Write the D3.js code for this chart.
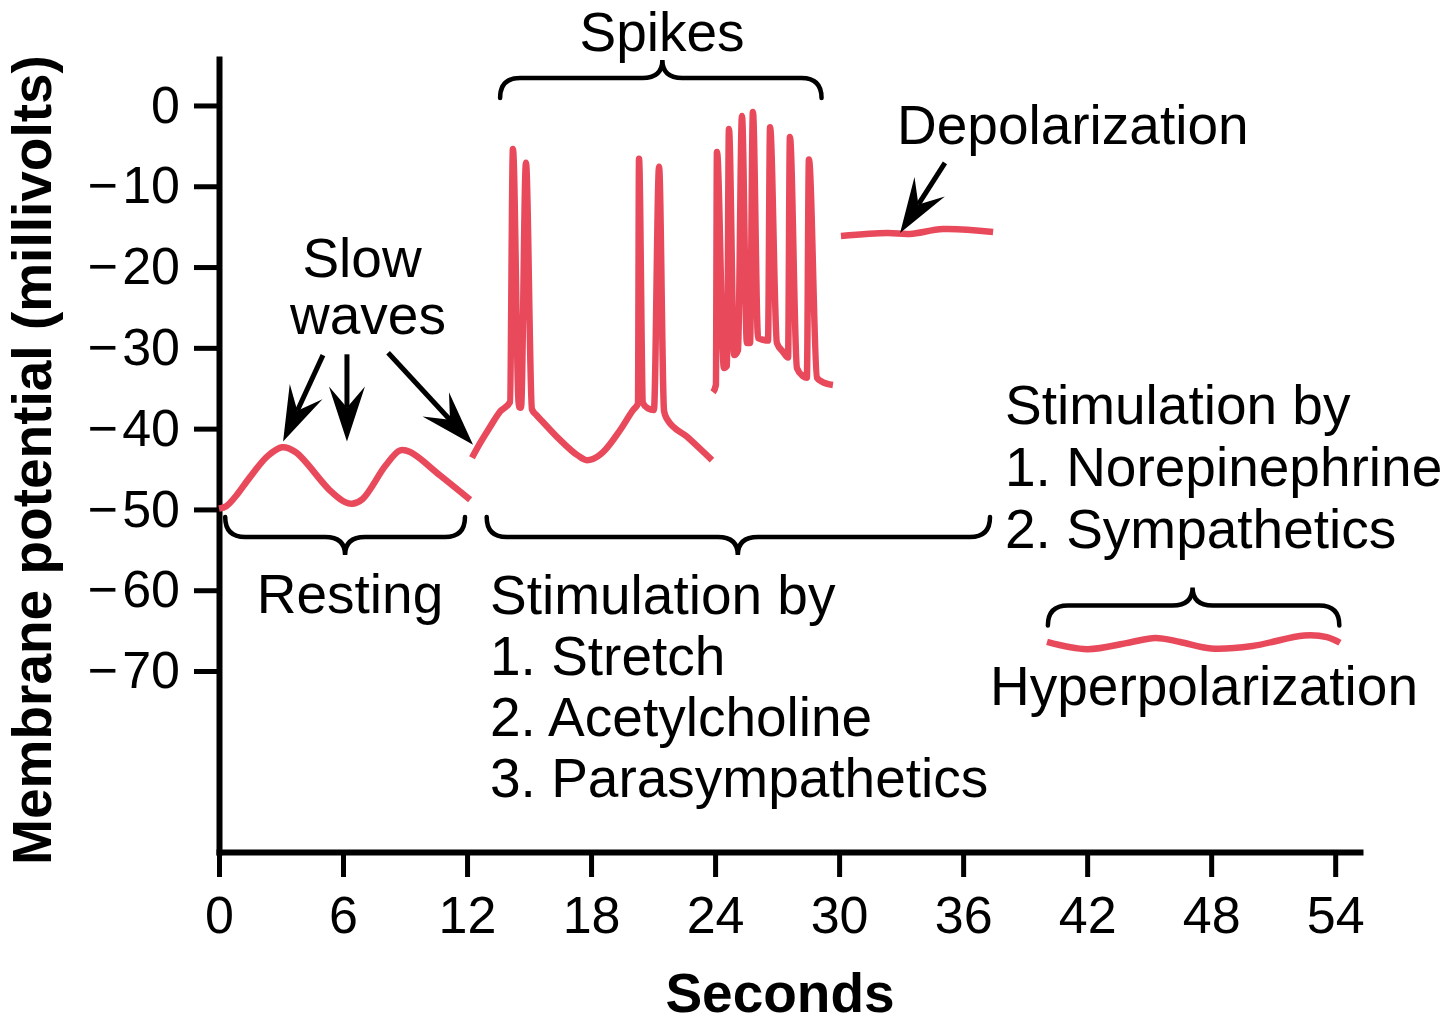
<!DOCTYPE html>
<html><head><meta charset="utf-8">
<script src="https://cdn.jsdelivr.net/npm/d3@7"></script>
<style>
html,body{margin:0;padding:0;background:#fff;}
svg{display:block;}
text{font-family:"Liberation Sans",Arial,Helvetica,sans-serif;fill:#000;}
</style>
</head><body>
<svg id="c" width="1446" height="1026"></svg>
<script>
// ---- data ----
const xTicks = [0, 6, 12, 18, 24, 30, 36, 42, 48, 54];
const yTicks = [0, -10, -20, -30, -40, -50, -60, -70];

// resting slow waves
const restingT = [0, 0.35, 0.8, 1.5, 2.35, 3.05, 3.7, 5.35, 6.1, 6.45, 6.95, 8.05, 8.75, 9.25, 10.7, 12.15];
const restingV = [-49.9, -49.6, -48.4, -46.0, -43.4, -42.3, -42.9, -47.6, -49.1, -49.3, -48.7, -44.6, -42.7, -42.9, -45.8, -48.8];

// stimulated slow waves with spikes
const stimT = [12.24, 12.63, 13.11, 13.59, 14.08, 14.22, 14.51, 14.61, 14.85, 15.14, 15.35, 15.68, 16.5, 17.32, 17.8, 18.09, 18.58, 19.4, 20.03, 20.27, 20.32, 20.51, 20.75, 21.04, 21.29, 21.53, 21.67, 22.64, 23.85];
const stimV = [-43.6, -41.8, -39.8, -37.9, -36.7, -5.4, -37.3, -37.4, -7.1, -37.6, -38.3, -39.2, -41.4, -43.25, -43.9, -43.75, -42.9, -40.2, -37.7, -36.9, -6.6, -36.85, -37.5, -37.7, -7.6, -37.8, -38.8, -41.0, -43.9];

// burst of spikes
const burstT = [23.90, 24.04, 24.09, 24.43, 24.58, 24.67, 24.92, 25.11, 25.30, 25.54, 25.69, 25.83, 26.08, 26.32, 26.56, 26.66, 26.99, 27.29, 27.53, 27.62, 27.96, 28.25, 28.44, 28.54, 28.93, 29.17, 29.70];
const burstV = [-35.5, -34.6, -5.75, -32.5, -32.2, -2.9, -30.9, -30.3, -1.3, -29.4, -29.4, -0.8, -28.8, -29.0, -29.1, -2.7, -29.4, -30.5, -31.2, -3.9, -32.5, -33.5, -33.7, -6.7, -33.7, -34.2, -34.6];

// depolarization
const depolT = [30.09, 32.32, 33.43, 35.03, 37.45];
const depolV = [-16.15, -15.8, -15.9, -15.3, -15.65];

// hyperpolarization
const hyperT = [40.06, 42.0, 44.0, 45.3, 46.5, 48.0, 50.0, 52.5, 53.6, 54.23];
const hyperV = [-66.4, -67.3, -66.5, -65.9, -66.4, -67.2, -66.9, -65.6, -65.8, -66.5];

// braces (time spans, seconds; level in mV)
const braceFrom = [0.3, 12.95, 13.6, 40.1];
const braceTo   = [11.9, 37.3, 29.15, 54.2];
const braceMid  = [6.1, 25.1, 21.45, 47.1];
const braceAt   = [-53.4, -53.4, 3.4, -61.9];
const braceDir  = [1, 1, -1, -1];

// arrows (seconds, mV)
const arrowFromT = [5.03, 6.19, 8.18, 35.12];
const arrowFromV = [-30.9, -30.8, -30.6, -7.1];
const arrowToT   = [3.1, 6.19, 12.29, 32.95];
const arrowToV   = [-41.6, -41.6, -42.0, -15.8];

// ---- drawing ----
const svg = d3.select("#c");
const RED = "#e84a5c";
const x = d3.scaleLinear().domain([0, 55.2]).range([219, 1360]);
const y = d3.scaleLinear().domain([-92.4, 5.75]).range([852, 59]);

// axes
const gx = svg.append("g").attr("transform", "translate(0,852)")
  .call(d3.axisBottom(x).tickValues(xTicks).tickSize(25).tickSizeOuter(0).tickPadding(19).tickFormat(d3.format("d")));
const gy = svg.append("g").attr("transform", "translate(219,0)")
  .call(d3.axisLeft(y).tickValues(yTicks).tickSize(25).tickSizeOuter(0).tickPadding(14)
    .tickFormat(d => d === 0 ? "0" : "\u2212\u200A" + Math.abs(d)));
[gx, gy].forEach(g => {
  g.select(".domain").attr("stroke", "#000").attr("stroke-width", 6).attr("stroke-linecap", "square");
  g.selectAll(".tick line").attr("stroke", "#000").attr("stroke-width", 5);
  g.selectAll(".tick text").attr("font-size", 52).attr("fill", "#000")
    .attr("font-family", "'Liberation Sans',Arial,Helvetica,sans-serif");
});

// axis titles
svg.append("text").attr("x", 780).attr("y", 1012).attr("text-anchor", "middle")
  .attr("font-size", 55).attr("font-weight", "bold").text("Seconds");
svg.append("text").attr("transform", "translate(51,460) rotate(-90)").attr("text-anchor", "middle")
  .attr("font-size", 55).attr("font-weight", "bold").text("Membrane potential (millivolts)");

// traces
const spikyLine = d3.line().x(d => x(d[0])).y(d => y(d[1])).curve(d3.curveMonotoneX);
const smoothLine = d3.line().x(d => x(d[0])).y(d => y(d[1])).curve(d3.curveCatmullRom.alpha(0.5));
const segs = [[restingT, restingV, smoothLine], [stimT, stimV, spikyLine], [burstT, burstV, spikyLine],
              [depolT, depolV, smoothLine], [hyperT, hyperV, smoothLine]];
segs.forEach(([T, V, gen]) => {
  svg.append("path").attr("d", gen(d3.zip(T, V)))
    .attr("fill", "none").attr("stroke", RED).attr("stroke-width", 6.5)
    .attr("stroke-linejoin", "round").attr("stroke-linecap", "butt");
});

// braces
function bracePath(x0, x1, xm, yl, dir) {
  const hook = 20 * dir, tip = 18 * dir, r = 20;
  return `M${x0},${yl - hook} Q${x0},${yl} ${x0 + r},${yl} L${xm - r},${yl} Q${xm},${yl} ${xm},${yl + tip}` +
         ` Q${xm},${yl} ${xm + r},${yl} L${x1 - r},${yl} Q${x1},${yl} ${x1},${yl - hook}`;
}
braceFrom.forEach((f, i) => {
  svg.append("path").attr("d", bracePath(x(f), x(braceTo[i]), x(braceMid[i]), y(braceAt[i]), braceDir[i]))
    .attr("fill", "none").attr("stroke", "#000").attr("stroke-width", 4.5).attr("stroke-linecap", "round");
});

// arrows
arrowFromT.forEach((t0, i) => {
  const x0 = x(t0), y0 = y(arrowFromV[i]), x1 = x(arrowToT[i]), y1 = y(arrowToV[i]);
  const len = Math.hypot(x1 - x0, y1 - y0), ux = (x1 - x0) / len, uy = (y1 - y0) / len;
  const nx = -uy, ny = ux;
  const L = 55, W = 18, N = 34;
  const nxp = x1 - N * ux, nyp = y1 - N * uy;
  svg.append("line").attr("x1", x0).attr("y1", y0).attr("x2", nxp).attr("y2", nyp)
    .attr("stroke", "#000").attr("stroke-width", 5);
  const pts = [[x1, y1], [x1 - L * ux + W * nx, y1 - L * uy + W * ny], [nxp, nyp], [x1 - L * ux - W * nx, y1 - L * uy - W * ny]];
  svg.append("path").attr("d", "M" + pts.map(p => p.join(",")).join("L") + "Z").attr("fill", "#000");
});

// annotation texts
function label(tx, px, py, anchor) {
  svg.append("text").attr("x", px).attr("y", py).attr("text-anchor", anchor || "start")
    .attr("font-size", 55).text(tx);
}
label("Spikes", 662, 51, "middle");
label("Depolarization", 897, 144);
label("Slow", 362, 277, "middle");
label("waves", 368, 334, "middle");
label("Resting", 350, 613, "middle");
["Stimulation by", "1. Stretch", "2. Acetylcholine", "3. Parasympathetics"].forEach((t, i) => label(t, 490, 614 + i * 61));
["Stimulation by", "1. Norepinephrine", "2. Sympathetics"].forEach((t, i) => label(t, 1005, 424 + i * 62));
label("Hyperpolarization", 990, 705);
</script>
</body></html>
